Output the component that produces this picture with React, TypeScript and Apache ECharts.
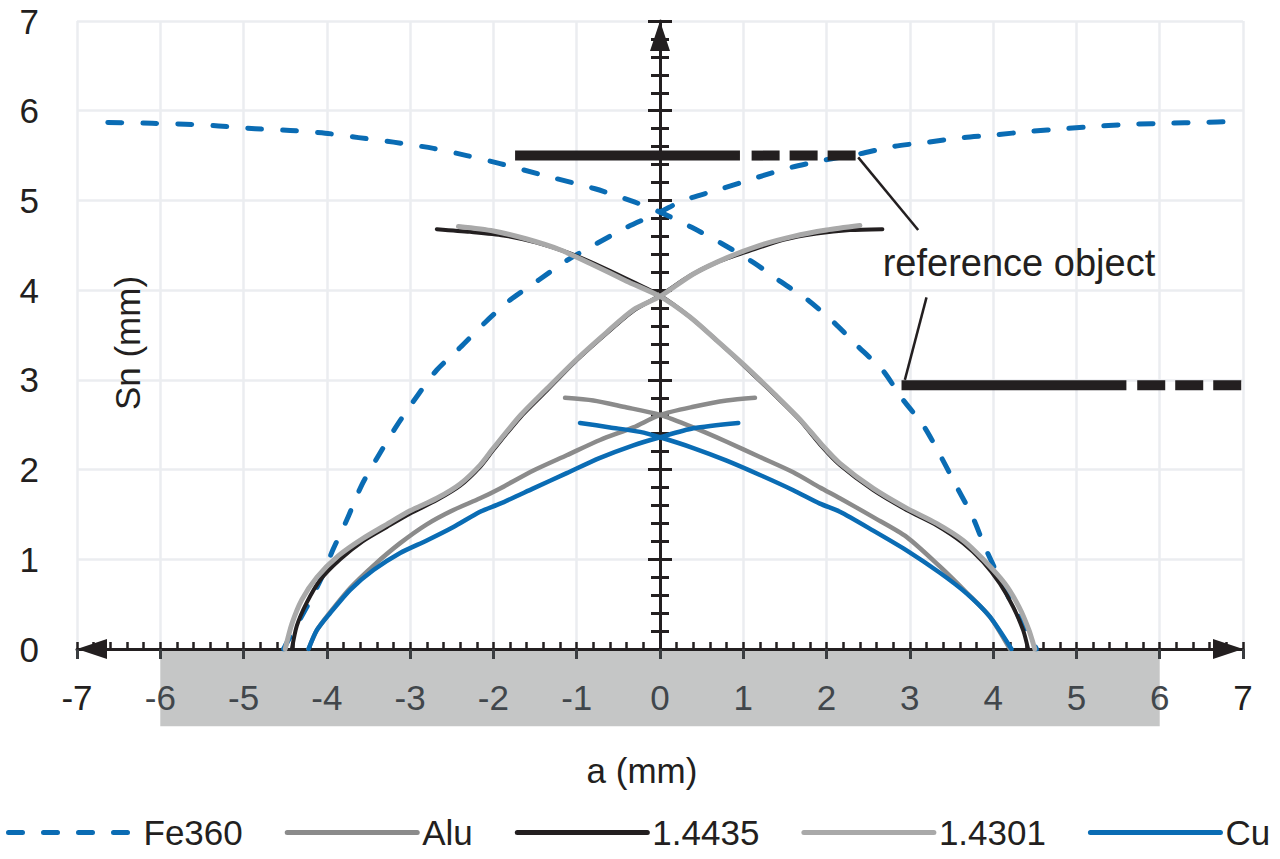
import React, { useEffect, useRef } from 'react';
import * as echarts from 'echarts';

const FONT = "'Liberation Sans', Arial, Helvetica, sans-serif";
const BLUE = '#0a6cb4';
const ALU = '#8b8b8b';
const BLACK = '#231f20';
const LGRAY = '#a9a9a9';
const GRID = '#ebedf0';

const legendNames = ['Fe360', 'Alu', '1.4435', '1.4301', 'Cu'];

// Fe360 (dashed blue)
const fe360Desc = [
  [-6.63, 5.87], [-6.1, 5.86], [-5.7, 5.85], [-5.3, 5.83], [-4.86, 5.8], [-4.44, 5.78], [-4.02, 5.75],
  [-3.62, 5.7], [-3.2, 5.65], [-2.72, 5.58], [-2.32, 5.5], [-1.92, 5.41], [-1.4, 5.28], [-0.78, 5.13],
  [-0.3, 4.98], [0, 4.87], [0.38, 4.7], [0.74, 4.52], [1.12, 4.31], [1.44, 4.1], [1.79, 3.88], [2.1, 3.63],
  [2.38, 3.37], [2.68, 3.1], [2.9, 2.8], [3.17, 2.48], [3.37, 2.15], [3.55, 1.83], [3.75, 1.48], [3.9, 1.14],
  [4.08, 0.78], [4.27, 0.42], [4.48, 0.08], [4.52, 0],
];
const fe360Asc = [
  [-4.52, 0], [-4.48, 0.07], [-4.24, 0.47], [-4.06, 0.8], [-3.93, 1.1], [-3.76, 1.44], [-3.58, 1.83],
  [-3.39, 2.14], [-3.16, 2.49], [-2.9, 2.84], [-2.68, 3.11], [-2.4, 3.36], [-2.1, 3.64], [-1.8, 3.89],
  [-1.46, 4.11], [-1.12, 4.33], [-0.76, 4.52], [-0.4, 4.7], [0, 4.87], [0.28, 5.0], [0.74, 5.13],
  [1.18, 5.26], [1.58, 5.37], [1.98, 5.45], [2.4, 5.52], [2.79, 5.6], [3.22, 5.65], [3.63, 5.7],
  [4.02, 5.73], [4.44, 5.77], [4.86, 5.8], [5.3, 5.83], [5.7, 5.85], [6.1, 5.86], [6.5, 5.87], [6.92, 5.88],
];

// Alu (mid gray)
const aluDesc = [
  [-1.14, 2.8], [-0.8, 2.77], [-0.44, 2.7], [0, 2.61], [0.4, 2.47], [0.8, 2.31], [1.2, 2.14], [1.6, 1.97],
  [1.92, 1.8], [2.16, 1.68], [2.56, 1.47], [2.96, 1.25], [3.36, 0.92], [3.68, 0.63], [3.96, 0.36], [4.2, 0],
];
const aluAsc = [
  [-4.22, 0], [-4.12, 0.21], [-3.96, 0.41], [-3.72, 0.68], [-3.44, 0.93], [-3.12, 1.18], [-2.8, 1.39],
  [-2.48, 1.55], [-2.16, 1.68], [-1.92, 1.79], [-1.52, 1.99], [-1.12, 2.16], [-0.72, 2.33], [-0.32, 2.47],
  [0, 2.61], [0.4, 2.7], [0.8, 2.77], [1.14, 2.8],
];

// 1.4435 (black)
const s4435Desc = [
  [-2.68, 4.68], [-2.28, 4.65], [-1.88, 4.61], [-1.48, 4.53], [-1.08, 4.41], [-0.68, 4.25], [-0.32, 4.09],
  [0, 3.94], [0.36, 3.7], [0.68, 3.44], [1.04, 3.13], [1.4, 2.81], [1.68, 2.55], [1.94, 2.26], [2.16, 2.05],
  [2.56, 1.77], [2.96, 1.55], [3.32, 1.38], [3.64, 1.18], [3.88, 0.97], [4.08, 0.73], [4.24, 0.47],
  [4.36, 0.21], [4.42, 0],
];
const s4435Asc = [
  [-4.42, 0], [-4.36, 0.26], [-4.24, 0.52], [-4.08, 0.77], [-3.84, 1.0], [-3.57, 1.2], [-3.28, 1.36],
  [-3.0, 1.51], [-2.68, 1.66], [-2.4, 1.82], [-2.16, 2.03], [-2.0, 2.22], [-1.68, 2.58], [-1.36, 2.88],
  [-1.0, 3.22], [-0.64, 3.52], [-0.32, 3.77], [0, 3.94], [0.36, 4.16], [0.68, 4.31], [1.08, 4.44],
  [1.48, 4.56], [1.88, 4.63], [2.28, 4.67], [2.67, 4.68],
];

// 1.4301 (light gray)
const s4301Desc = [
  [-2.42, 4.71], [-2.0, 4.66], [-1.6, 4.57], [-1.2, 4.45], [-0.8, 4.28], [-0.4, 4.1], [0, 3.93],
  [0.36, 3.7], [0.68, 3.44], [1.04, 3.14], [1.4, 2.82], [1.68, 2.56], [1.94, 2.28], [2.16, 2.07],
  [2.56, 1.79], [2.96, 1.57], [3.32, 1.4], [3.64, 1.21], [3.88, 1.0], [4.14, 0.73], [4.31, 0.47],
  [4.43, 0.21], [4.5, 0],
];
const s4301Asc = [
  [-4.5, 0], [-4.42, 0.28], [-4.3, 0.55], [-4.12, 0.8], [-3.86, 1.04], [-3.57, 1.23], [-3.28, 1.39],
  [-3.0, 1.54], [-2.68, 1.68], [-2.4, 1.84], [-2.16, 2.05], [-2.0, 2.24], [-1.68, 2.6], [-1.36, 2.9],
  [-1.0, 3.23], [-0.64, 3.53], [-0.32, 3.78], [0, 3.93], [0.4, 4.18], [0.8, 4.36], [1.2, 4.5],
  [1.6, 4.6], [2.0, 4.67], [2.4, 4.72],
];

// Cu (solid blue)
const cuDesc = [
  [-0.96, 2.52], [-0.6, 2.47], [-0.24, 2.42], [0, 2.36], [0.4, 2.24], [0.8, 2.1], [1.2, 1.94], [1.6, 1.77],
  [1.92, 1.62], [2.16, 1.53], [2.56, 1.32], [2.96, 1.1], [3.36, 0.85], [3.68, 0.62], [3.96, 0.36], [4.22, 0],
];
const cuAsc = [
  [-4.22, 0], [-4.12, 0.21], [-3.96, 0.4], [-3.72, 0.66], [-3.44, 0.88], [-3.12, 1.07], [-2.8, 1.21],
  [-2.48, 1.36], [-2.16, 1.53], [-1.92, 1.62], [-1.52, 1.79], [-1.12, 1.96], [-0.72, 2.13], [-0.32, 2.27],
  [0, 2.36], [0.4, 2.46], [0.94, 2.52],
];

// reference object markers
const ref1Solid = [[-1.74, 5.5], [0.96, 5.5]];
const ref1Dashed = [[1.1, 5.5], [2.38, 5.5]];
const ref1Leader = [[2.38, 5.48], [3.1, 4.67]];
const ref2Solid = [[2.9, 2.94], [5.6, 2.94]];
const ref2Dashed = [[5.73, 2.94], [7.05, 2.94]];
const ref2Leader = [[2.94, 3.0], [3.2, 3.92]];
const refLabelPos = [4.31, 4.3];
const grayBoxRange = [[-6, 0], [6, -0.86]];

function curve(name: string, data: number[][], color: string, width: number, dashed = false) {
  return {
    type: 'line',
    name,
    data,
    xAxisIndex: 0,
    yAxisIndex: 0,
    symbol: 'none',
    showSymbol: false,
    smooth: 0.25,
    silent: true,
    lineStyle: { color, width, type: dashed ? [14, 21] : 'solid', cap: 'round', join: 'round' },
    itemStyle: { color },
    emphasis: { disabled: true },
  };
}

function bar(name: string, data: number[][], width: number, dashed = false, clip = true) {
  return {
    type: 'line',
    name,
    data,
    xAxisIndex: 0,
    yAxisIndex: 0,
    symbol: 'none',
    showSymbol: false,
    silent: true,
    clip,
    lineStyle: { color: BLACK, width, type: dashed ? [28, 10] : 'solid', cap: 'butt' },
    itemStyle: { color: BLACK },
    emphasis: { disabled: true },
    z: 3,
  };
}

export default function App() {
  const ref = useRef<HTMLDivElement>(null);
  useEffect(() => {
    const chart = echarts.init(ref.current!, null, { renderer: 'svg' });
    const yCentral = (inside: boolean, showLine: boolean) => ({
      type: 'value',
      min: 0,
      max: 7,
      interval: 1,
      position: 'left',
      axisLine: {
        show: showLine,
        onZero: true,
        onZeroAxisIndex: 0,
        lineStyle: { color: BLACK, width: 3 },
        symbol: ['none', 'triangle'],
        symbolSize: [20, 30],
        symbolOffset: [0, -15],
      },
      axisTick: { show: true, inside, length: 12, lineStyle: { color: BLACK, width: 3 } },
      minorTick: { show: true, splitNumber: 5, length: 9, lineStyle: { color: BLACK, width: 3 } },
      axisLabel: { show: false },
      splitLine: { show: false },
      minorSplitLine: { show: false },
    });
    const option: any = {
      animation: false,
      textStyle: { fontFamily: FONT },
      grid: { left: 77, right: 37, top: 21, bottom: 210, containLabel: false },
      legend: {
        data: legendNames,
        left: 6,
        top: 815,
        width: 1400,
        padding: 0,
        itemWidth: 130,
        itemHeight: 2,
        itemGap: 42,
        itemStyle: { opacity: 0 },
        lineStyle: { width: 5 },
        textStyle: { fontSize: 35, color: BLACK, fontFamily: FONT },
      },
      xAxis: [
        {
          type: 'value',
          min: -7,
          max: 7,
          interval: 1,
          position: 'bottom',
          axisLine: {
            show: true,
            onZero: false,
            lineStyle: { color: BLACK, width: 3 },
            symbol: ['triangle', 'triangle'],
            symbolSize: [20, 30],
            symbolOffset: [15, -15],
          },
          axisTick: { show: true, inside: false, length: 10, lineStyle: { color: '#3a3d40', width: 3 } },
          axisLabel: {
            show: true,
            margin: 31,
            fontSize: 35,
            fontFamily: FONT,
            color: (v: any) => (Math.abs(Number(v)) === 7 ? BLACK : '#41464b'),
          },
          splitLine: { show: true, lineStyle: { color: GRID, width: 2.5 } },
          name: 'a (mm)',
          nameLocation: 'middle',
          nameGap: 104,
          nameTextStyle: { fontSize: 35, color: BLACK, fontFamily: FONT, padding: [0, 36, 0, 0] },
        },
        {
          type: 'value',
          min: -7,
          max: 7,
          interval: 0.2,
          position: 'bottom',
          axisLine: { show: false, onZero: false },
          axisTick: { show: true, inside: true, length: 7, lineStyle: { color: BLACK, width: 2.5 } },
          axisLabel: { show: false },
          splitLine: { show: false },
        },
      ],
      yAxis: [
        {
          type: 'value',
          min: 0,
          max: 7,
          interval: 1,
          position: 'left',
          axisLine: { show: false, onZero: false },
          axisTick: { show: false },
          axisLabel: { margin: 38, fontSize: 35, color: BLACK, fontFamily: FONT },
          splitLine: { show: true, lineStyle: { color: GRID, width: 2.5 } },
        },
        yCentral(false, true),
        yCentral(true, false),
      ],
      series: [
        curve('Fe360', fe360Desc, BLUE, 5, true),
        curve('Fe360', fe360Asc, BLUE, 5, true),
        curve('Alu', aluDesc, ALU, 4.5),
        curve('Alu', aluAsc, ALU, 4.5),
        curve('1.4435', s4435Desc, BLACK, 4),
        curve('1.4435', s4435Asc, BLACK, 4),
        curve('1.4301', s4301Desc, LGRAY, 5),
        curve('1.4301', s4301Asc, LGRAY, 5),
        curve('Cu', cuDesc, BLUE, 4.5),
        curve('Cu', cuAsc, BLUE, 4.5),
        bar('ref1a', ref1Solid, 10),
        bar('ref1b', ref1Dashed, 10, true),
        bar('ref1c', ref1Leader, 2.5),
        bar('ref2a', ref2Solid, 10, false, false),
        bar('ref2b', ref2Dashed, 10, true, false),
        bar('ref2c', ref2Leader, 2.5),
      ],
    };
    chart.setOption(option);

    const toPx = (p: number[]) => chart.convertToPixel({ xAxisIndex: 0, yAxisIndex: 0 }, p) as number[];
    const b0 = toPx(grayBoxRange[0]);
    const b1 = toPx(grayBoxRange[1]);
    const lbl = toPx(refLabelPos);
    chart.setOption({
      graphic: [
        {
          type: 'rect',
          z: -1,
          silent: true,
          shape: { x: b0[0], y: b0[1], width: b1[0] - b0[0], height: b1[1] - b0[1] },
          style: { fill: '#c5c6c6' },
        },
        {
          type: 'text',
          x: lbl[0],
          y: lbl[1],
          silent: true,
          z: 5,
          style: { text: 'reference object', fontSize: 38, fill: BLACK, fontFamily: FONT, align: 'center', verticalAlign: 'middle' },
        },
        {
          type: 'text',
          x: 127,
          y: 343,
          rotation: Math.PI / 2,
          silent: true,
          z: 5,
          style: { text: 'Sn (mm)', fontSize: 35, fill: BLACK, fontFamily: FONT, align: 'center', verticalAlign: 'middle' },
        },
      ],
    });
    return () => chart.dispose();
  }, []);
  return <div ref={ref} style={{ position: 'absolute', left: 0, top: 0, width: 1280, height: 859 }} />;
}
